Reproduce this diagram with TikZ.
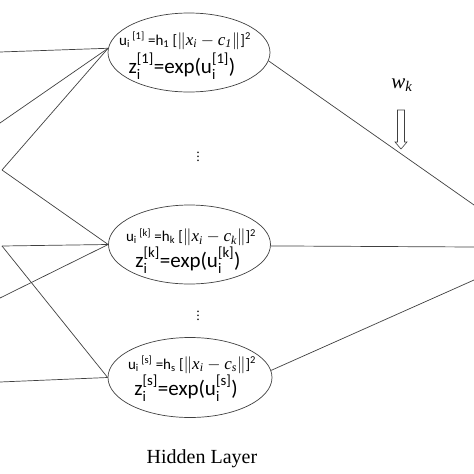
\RequirePackage{fix-cm}
\documentclass[tikz,border=0pt]{standalone}
\usepackage{amsmath}
\usepackage{fontspec}
\setmainfont{Liberation Serif}
\newfontfamily\cfont{Carlito}
\usetikzlibrary{shapes.geometric}
\newcommand\myrowa[2]{{\cfont\fontsize{15}{16}\selectfont u\textsubscript{i}\,\textsuperscript{[#1]} =h\textsubscript{#1} [}{\fontsize{17}{18}\selectfont$\lVert \textit{x}_{\textit{i}} - \textit{c}_{\textit{#2}}\rVert$}{\cfont\fontsize{15}{16}\selectfont]\textsuperscript{2}}}
\newcommand\myrowb[1]{{\cfont\fontsize{21}{24}\selectfont z$_{\text{i}}^{\text{[#1]}}$=exp(u$_{\text{i}}^{\text{[#1]}}$)}}
\begin{document}
\begin{tikzpicture}[x=1pt,y=-1pt,
  hid/.style={ellipse,draw=black!75,line width=0.7pt,minimum width=162pt,minimum height=79pt,inner sep=0pt},
  txt/.style={anchor=base,inner sep=0pt},
  conn/.style={draw=black!75,line width=0.7pt},
]
\useasboundingbox (0,0) rectangle (474,474);
\clip (0,0) rectangle (474,474);
% hidden nodes
\node[hid] (h1) at (189,52.5) {};
\node[txt] (h1a) at (185,45) {\myrowa{1}{1}};
\node[txt] (h1b) at (182,73) {\myrowb{1}};
\node[hid] (h2) at (189.5,244.5) {};
\node[txt] (h2a) at (191,241.5) {\myrowa{k}{k}};
\node[txt] (h2b) at (188,267) {\myrowb{k}};
\node[hid,minimum height=80pt,minimum width=164pt] (h3) at (190,377.5) {};
\node[txt] (h3a) at (192,369) {\myrowa{s}{s}};
\node[txt] (h3b) at (186,395) {\myrowb{s}};
% dots
\node[font=\fontsize{14}{14}\selectfont] (d1) at (198,154) {$\vdots$};
\node[font=\fontsize{14}{14}\selectfont] (d2) at (198,313) {$\vdots$};
% input ends
\coordinate (i1) at (0,52);
\coordinate (i2) at (0,123);
\coordinate (i3) at (2,170);
\coordinate (i4) at (2,246);
\coordinate (i5) at (0,298);
\coordinate (i6) at (0,382);
% output ends
\coordinate (o1) at (474,205);
\coordinate (o2) at (474,247);
\coordinate (o3) at (474,280);
% connections
\draw[conn] (i1) -- (h1.177);
\draw[conn] (i2) -- (h1.177);
\draw[conn] (i3) -- (h1.177);
\draw[conn] (i3) -- (h2.west);
\draw[conn] (i4) -- (h2.west);
\draw[conn] (i5) -- (h2.west);
\draw[conn] (i4) -- (h3.west);
\draw[conn] (i6) -- (h3.west);
\draw[conn] (h1.-6) -- (o1);
\draw[conn] (h2.-1) -- (o2);
\draw[conn] (h3.5) -- (o3);
% weight label and arrow
\node[font=\fontsize{21}{24}\selectfont] (wk) at (402,85) {$\textit{w}_{\textit{k}}$};
\draw[conn,line width=0.6pt] (397.5,110) -- (404.5,110) -- (404.5,142) -- (407,142) -- (401,149) -- (395,142) -- (397.5,142) -- cycle;
% layer caption
\node[font=\fontsize{20}{24}\selectfont] (cap) at (202,459) {Hidden Layer};
\end{tikzpicture}
\end{document}
